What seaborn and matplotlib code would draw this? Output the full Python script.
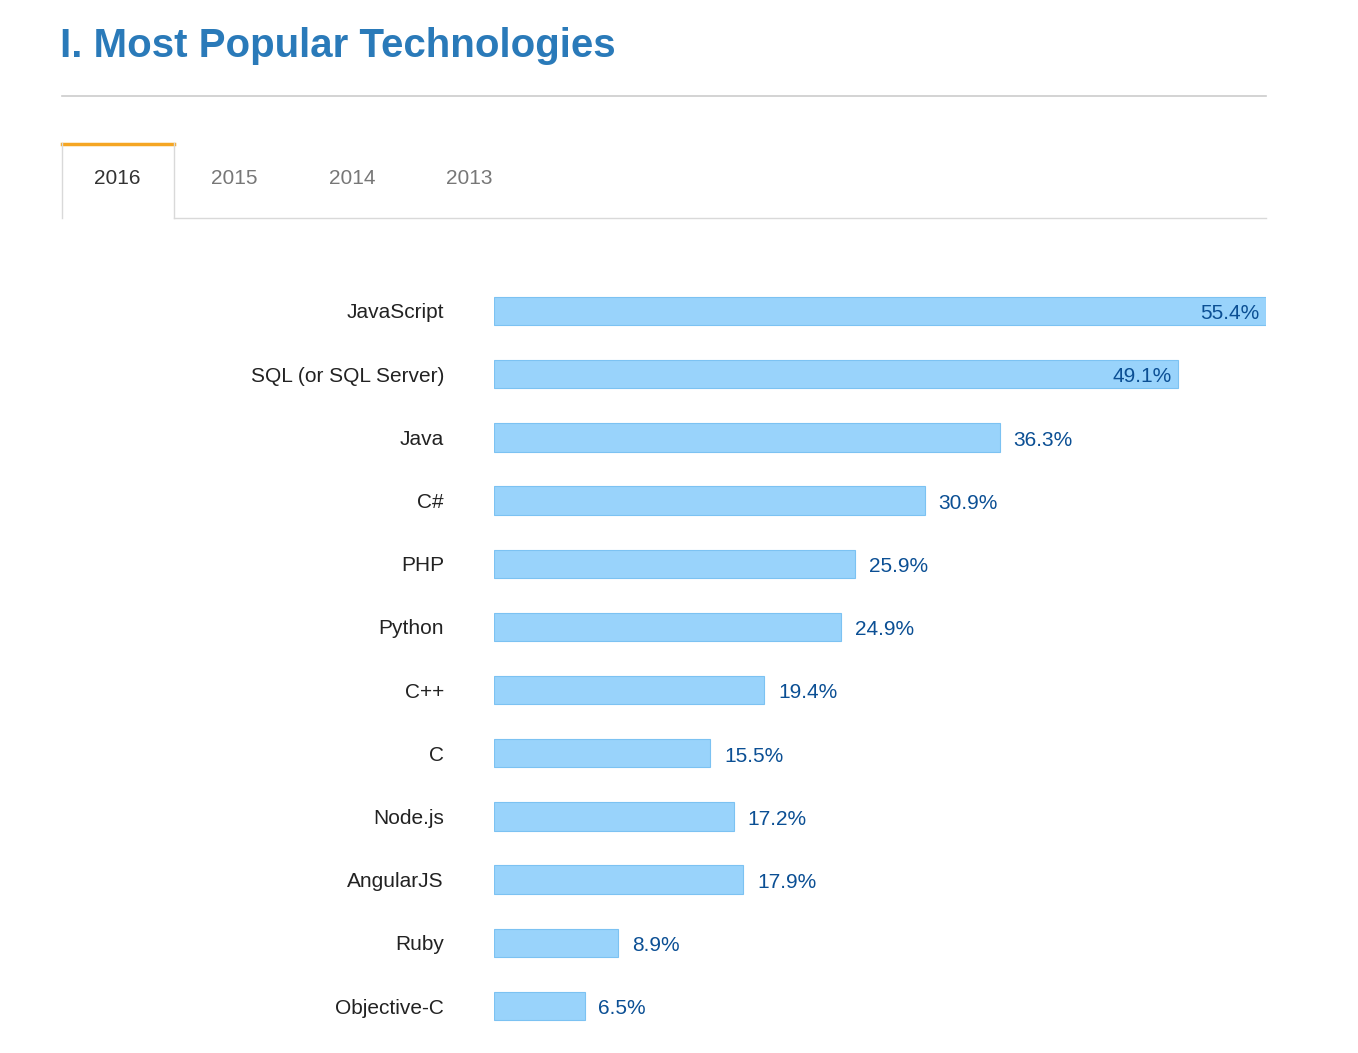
import matplotlib
matplotlib.use("Agg")
import matplotlib.pyplot as plt
from matplotlib.lines import Line2D
import seaborn as sns
import pandas as pd

technologies = ["JavaScript", "SQL (or SQL Server)", "Java", "C#", "PHP", "Python",
                "C++", "C", "Node.js", "AngularJS", "Ruby", "Objective-C"]
percentages = [55.4, 49.1, 36.3, 30.9, 25.9, 24.9, 19.4, 15.5, 17.2, 17.9, 8.9, 6.5]
tabs = ["2016", "2015", "2014", "2013"]
title = "I. Most Popular Technologies"

W, H = 1358, 1053
plt.rcParams["font.family"] = "Liberation Sans"
fig = plt.figure(figsize=(W / 100, H / 100), dpi=100)
fig.patch.set_facecolor("white")

def fx(x): return x / W
def fy(y): return 1 - y / H

def hline(x0, x1, y, color, lw):
    fig.add_artist(Line2D([fx(x0), fx(x1)], [fy(y), fy(y)], color=color, lw=lw))

def vline(x, y0, y1, color, lw):
    fig.add_artist(Line2D([fx(x), fx(x)], [fy(y0), fy(y1)], color=color, lw=lw))

fig.text(fx(60), fy(46), title, fontsize=29, fontweight="bold", color="#2a7ab9", va="center", ha="left")
hline(62, 1266, 96, "#cccccc", 1.2)

# tabs
hline(62, 174, 143.5, "#f5a623", 2.5)
vline(62, 143, 218, "#d9d9d9", 1)
vline(174, 143, 218, "#d9d9d9", 1)
hline(174, 1266, 218, "#d9d9d9", 1)
for i, (t, x) in enumerate(zip(tabs, [117, 234, 352, 469])):
    fig.text(fx(x), fy(179), t, fontsize=15, color="#333333" if i == 0 else "#777777", ha="center", va="center")

top, bot = 279.4, 1037.6
ax = fig.add_axes([fx(494), fy(bot), fx(1266) - fx(494), (bot - top) / H])
df = pd.DataFrame({"tech": technologies, "pct": percentages})
sns.barplot(data=df, x="pct", y="tech", orient="h", color="#99d3fb", saturation=1,
            width=0.45, edgecolor="#7cc2f2", linewidth=0.8, ax=ax)
ax.set_xlim(0, 55.4)
ax.set_ylim(11.5, -0.5)
ax.set_xlabel("")
ax.set_ylabel("")
ax.set_xticks([])
ax.tick_params(axis="y", length=0, pad=36, labelsize=15, labelcolor="#222222")
for s in ax.spines.values():
    s.set_visible(False)

for i, v in enumerate(percentages):
    if v > 45:
        ax.annotate(f"{v}%", (v, i), xytext=(-5, -2), textcoords="offset points",
                    ha="right", va="center", fontsize=15, color="#0b4f94")
    else:
        ax.annotate(f"{v}%", (v, i), xytext=(10, -2), textcoords="offset points",
                    ha="left", va="center", fontsize=15, color="#0b4f94")

fig.savefig("out.png", dpi=100, facecolor="white")
